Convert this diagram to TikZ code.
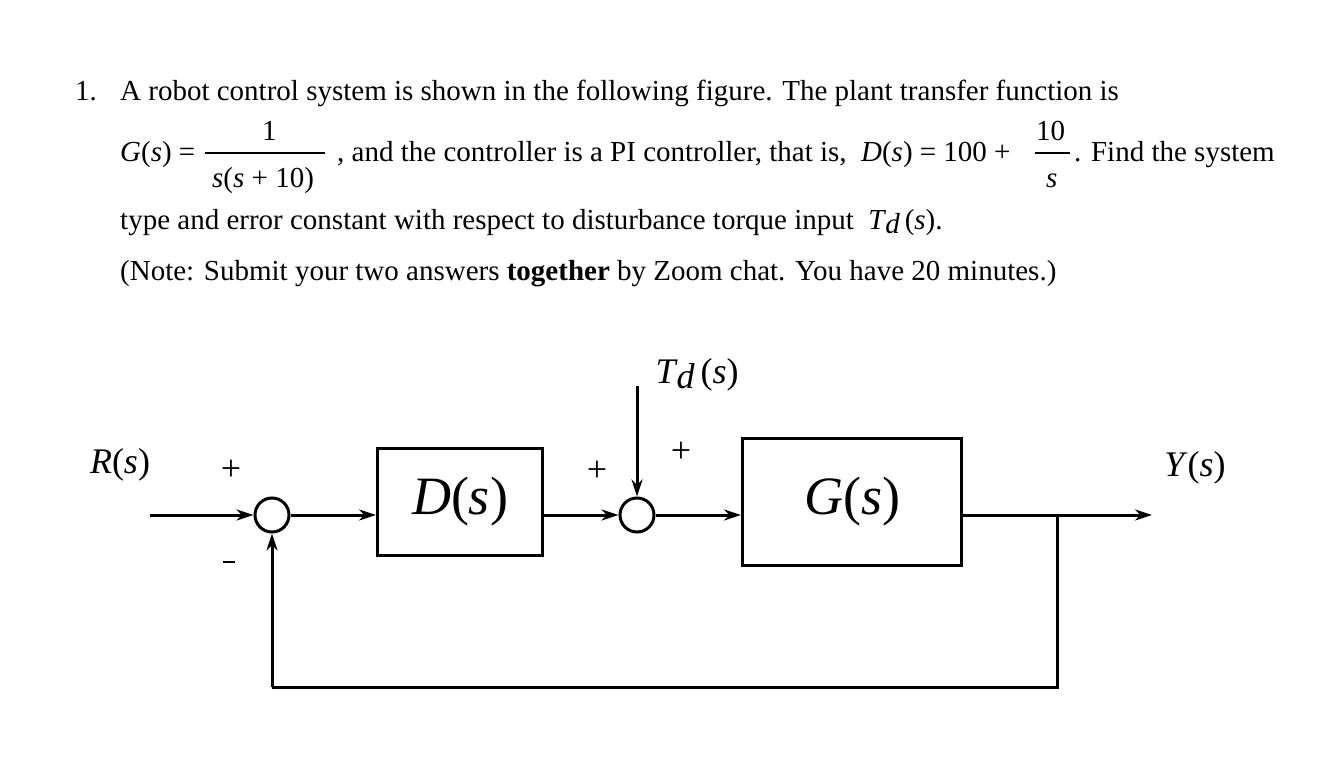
\documentclass[tikz,border=0pt]{standalone}
\usepackage{fontspec}
\setmainfont{Liberation Serif}
\usetikzlibrary{arrows.meta}
\begin{document}
\begin{tikzpicture}[x=1pt,y=-1pt,
  txt/.style={anchor=base west,inner sep=0pt,font=\fontsize{29}{33}\selectfont},
  blk/.style={draw,line width=3pt,minimum width=165pt,minimum height=107pt,font=\fontsize{54}{58}\selectfont},
  sumc/.style={draw,circle,line width=3pt,minimum size=34pt,inner sep=0pt},
  sig/.style={line width=3pt,-{Stealth[length=17pt,width=11pt]}},
  wire/.style={line width=3pt},
  lbl/.style={inner sep=0pt,font=\fontsize{36}{40}\selectfont}]
\useasboundingbox (0,0) rectangle (1339,775);
% text
\node[txt] (t1) at (75,101) {1.};
\node[txt] (t1b) at (120,101) {A robot control system is shown in the following figure. The plant transfer function is};
\node[txt] (g) at (120,162) {\textit{G}(\textit{s}) =};
\node[txt] (gn) at (262,141) {1};
\node[txt] (gd) at (212,188) {\textit{s}(\textit{s} + 10)};
\draw[line width=1.2pt] (205,153) -- (325,153);
\node[txt] (mid) at (337,162) {, and the controller is a PI controller, that is,\ \ \textit{D}(\textit{s}) = 100 +};
\node[txt] (dn) at (1036,141) {10};
\node[txt] (dd) at (1046,188) {\textit{s}};
\draw[line width=1.2pt] (1035,153) -- (1070,153);
\node[txt] (fin) at (1074,162) {. Find the system};
\node[txt] (t3) at (120,230) {type and error constant with respect to disturbance torque input \ \textit{T\kern1pt\raisebox{-4pt}{d}}\,(\textit{s}).};
\node[txt] (t4) at (120,281) {(Note: Submit your two answers \textbf{together} by Zoom chat. You have 20 minutes.)};
% diagram
\node[sumc] (s1) at (272,515) {};
\node[sumc] (s2) at (637,515) {};
\node[blk] (D) at (460,502) {\textit{D}(\textit{s})};
\node[blk,minimum width=219pt,minimum height=126pt] (G) at (852,502) {\textit{G}(\textit{s})};
\coordinate (rin) at (150,515);
\coordinate (yout) at (1152,515);
\coordinate (tap) at (1057,515);
\coordinate (fb1) at (1057,687);
\coordinate (fb2) at (272,687);
\coordinate (tdin) at (637,386);
\draw[sig] (rin) -- (s1);
\draw[sig] (s1) -- (D.west|-s1);
\draw[sig] (D.east|-s2) -- (s2);
\draw[sig] (s2) -- (G.west|-s2);
\draw[sig] (G.east|-yout) -- (yout);
\draw[wire] (tap) -- (fb1) -- (fb2);
\draw[sig] (fb2) -- (s1);
\draw[sig] (tdin) -- (s2);
\node[lbl] (R) at (120,465) {\textit{R}(\textit{s})};
\node[lbl] (Y) at (1195,468) {\textit{Y}(\textit{s})};
\node[lbl] (Td) at (697,375) {\textit{T\kern1pt\raisebox{-5pt}{d}}\,(\textit{s})};
\node[lbl] (p1) at (231,470) {+};
\node[lbl] (m1) at (229,562) {\rule{12pt}{2.5pt}};
\node[lbl] (p2) at (597,471) {+};
\node[lbl] (p3) at (681,452) {+};
\end{tikzpicture}
\end{document}
